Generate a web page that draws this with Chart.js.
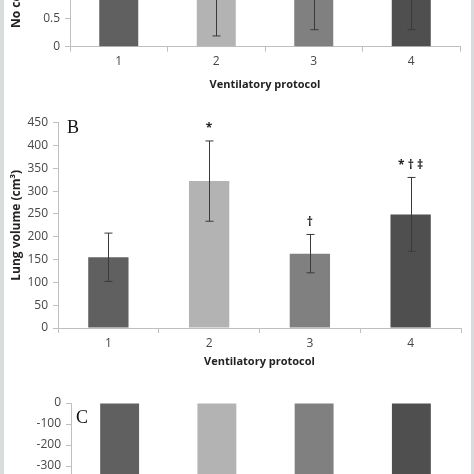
<!DOCTYPE html>
<html>
<head>
<meta charset="utf-8">
<script src="https://cdn.jsdelivr.net/npm/chart.js@4/dist/chart.umd.min.js"></script>
<style>
  html, body { margin: 0; padding: 0; background: #fff; }
  #page { position: relative; width: 474px; height: 474px; overflow: hidden; background: #fff; }
  canvas { position: absolute; left: 0; }
  #chartA { top: -120px; }
  #chartB { top: 100px; }
  #chartC { top: 380px; }
  .edge { position: absolute; background: #d9dcdc; }
</style>
</head>
<body>
<div id="page">
  <canvas id="chartA" width="474" height="220"></canvas>
  <canvas id="chartB" width="474" height="275"></canvas>
  <canvas id="chartC" width="474" height="300"></canvas>
  <div class="edge" style="left:0;top:0;width:4px;height:474px"></div>
  <div class="edge" style="right:0;top:0;width:3px;height:474px"></div>
</div>
<script>
  // --- DATOS ---
  const categories = ["1", "2", "3", "4"];
  const barColors = ["#606060", "#b3b3b3", "#808080", "#4f4f4f"];

  // panel A (recortado arriba)
  const valuesA = [1.0, 1.4, 1.2, 1.3];
  const errorsA = [0.1, 1.21, 0.9, 1.0];

  // panel B
  const valuesB = [155, 322, 163, 249];
  const errorsB = [53, 88, 42, 81];
  const markersB = ["", "*", "\u2020", "* \u2020 \u2021"];
  const ticksB = [0, 50, 100, 150, 200, 250, 300, 350, 400, 450];

  // panel C (recortado abajo)
  const valuesC = [-520, -540, -500, -530];

  const font = "'Open Sans', 'Noto Sans', sans-serif";
  const axisGrey = "#bfbfbf";
  const tickGrey = "#474747";

  // --- PLUGIN: barras de error, marcas y letra del panel ---
  const extras = {
    id: "extras",
    afterDatasetsDraw(chart, args, opts) {
      const { ctx, chartArea } = chart;
      const y = chart.scales.y;
      const meta = chart.getDatasetMeta(0);
      const vals = chart.data.datasets[0].data;
      ctx.save();
      if (opts.errors) {
        ctx.strokeStyle = "#3a3a3a";
        ctx.lineWidth = 1;
        meta.data.forEach((bar, i) => {
          const x = Math.round(bar.x) + 0.5;
          const top = y.getPixelForValue(vals[i] + opts.errors[i]);
          const bot = y.getPixelForValue(vals[i] - opts.errors[i]);
          ctx.beginPath();
          ctx.moveTo(x, top);
          ctx.lineTo(x, bot);
          ctx.moveTo(x - 4, top);
          ctx.lineTo(x + 4, top);
          ctx.moveTo(x - 4, bot);
          ctx.lineTo(x + 4, bot);
          ctx.stroke();
          if (opts.markers && opts.markers[i]) {
            ctx.fillStyle = "#222";
            ctx.font = "bold 12px " + font;
            ctx.textAlign = "center";
            ctx.textBaseline = "middle";
            ctx.fillText(opts.markers[i], bar.x, top - 12);
          }
        });
      }
      if (opts.letter) {
        ctx.fillStyle = "#111";
        ctx.font = "18px 'Liberation Serif', 'DejaVu Serif', serif";
        ctx.textAlign = "left";
        ctx.textBaseline = "middle";
        ctx.fillText(opts.letter, chartArea.left + opts.letterDx, chartArea.top + opts.letterDy);
      }
      ctx.restore();
    },
  };

  function crearPanel(id, values, yOpts, xHeight, yWidth, padding, extraOpts, xTitle, titlePad) {
    const ctx = document.getElementById(id).getContext("2d");
    return new Chart(ctx, {
      type: "bar",
      data: {
        labels: categories,
        datasets: [
          {
            data: values,
            backgroundColor: barColors,
            borderWidth: 0,
            categoryPercentage: 0.8,
            barPercentage: 0.5,
          },
        ],
      },
      plugins: [extras],
      options: {
        responsive: false,
        animation: false,
        layout: { padding: padding },
        plugins: {
          legend: { display: false },
          tooltip: { enabled: false },
          extras: extraOpts,
        },
        scales: {
          x: {
            grid: { drawOnChartArea: false, drawTicks: true, tickLength: 5, color: axisGrey, offset: true },
            border: { display: true, color: axisGrey },
            ticks: { color: tickGrey, font: { family: font, size: 12 }, padding: 3 },
            title: {
              display: !!xTitle,
              text: xTitle || "",
              color: "#222",
              font: { family: font, size: 11, weight: "bold" },
              padding: { top: 0, bottom: titlePad || 0 },
            },
            afterFit: (s) => { s.height = xHeight; },
          },
          y: Object.assign(
            {
              grid: { drawOnChartArea: false, drawTicks: true, tickLength: 5, color: axisGrey },
              border: { display: true, color: axisGrey },
              afterFit: (s) => { s.width = yWidth; },
            },
            yOpts
          ),
        },
      },
    });
  }

  // --- PANEL A ---
  crearPanel(
    "chartA",
    valuesA,
    {
      min: 0,
      max: 2.5,
      ticks: { stepSize: 0.5, color: tickGrey, font: { family: font, size: 12 }, padding: 5 },
      title: { display: true, text: "No complications", color: "#222", font: { family: font, size: 12, weight: "bold" }, padding: { top: 9, bottom: 0 } },
    },
    53.3, 70, { top: 25, right: 14, bottom: 0, left: 0 },
    { errors: errorsA },
    "Ventilatory protocol", 9
  );

  // --- PANEL B ---
  crearPanel(
    "chartB",
    valuesB,
    {
      min: 0,
      max: 450,
      afterBuildTicks: (s) => { s.ticks = ticksB.map((v) => ({ value: v })); },
      ticks: { color: tickGrey, font: { family: font, size: 12 }, padding: 5 },
      title: { display: true, text: "Lung volume (cm\u00b3)", color: "#222", font: { family: font, size: 12, weight: "bold" }, padding: { top: 9, bottom: 0 } },
    },
    47, 58, { top: 22.7, right: 13, bottom: 0, left: 0 },
    { errors: errorsB, markers: markersB, letter: "B", letterDx: 9, letterDy: 6 },
    "Ventilatory protocol", 7
  );

  // --- PANEL C ---
  crearPanel(
    "chartC",
    valuesC,
    {
      min: -1000,
      max: 0,
      ticks: { stepSize: 100, color: tickGrey, font: { family: font, size: 12 }, padding: 5 },
    },
    67, 71, { top: 23, right: 14, bottom: 0, left: 0 },
    { letter: "C", letterDx: 5, letterDy: 15 },
    "", 0
  );
</script>
</body>
</html>
